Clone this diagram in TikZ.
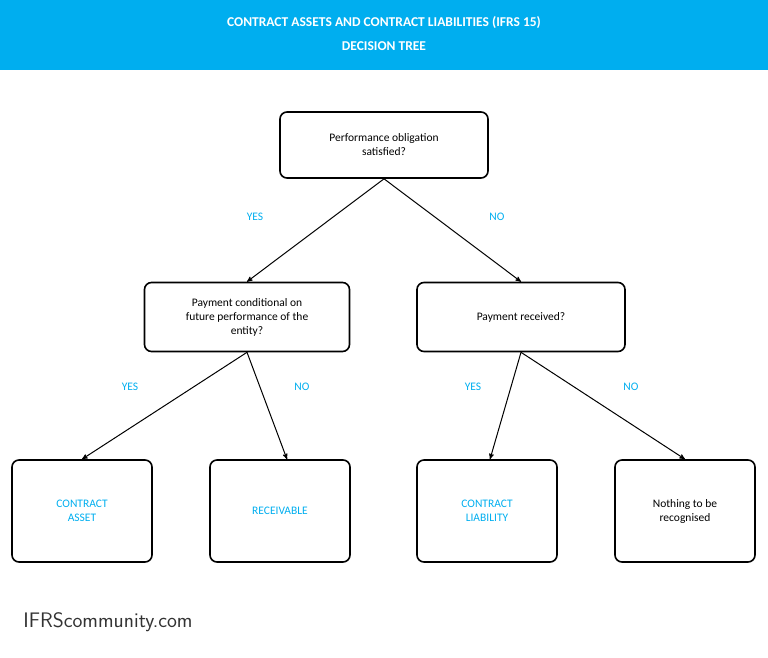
\documentclass[tikz,border=0pt]{standalone}
\usepackage{fontspec}
\setmainfont{Carlito}
\usetikzlibrary{arrows}
\definecolor{ifrsblue}{RGB}{0,174,239}

\begin{document}
\begin{tikzpicture}[x=1pt,y=-1pt,->,>=stealth',line width=1pt]
    \tikzstyle{box}=[draw=black,line width=1.6pt,rounded corners=7pt,align=center,font=\fontsize{11.5}{14}\selectfont]
    \tikzstyle{answer}=[text=ifrsblue,font=\fontsize{11.5}{14}\selectfont]

    \useasboundingbox (0,0) rectangle (768,657);
    \fill[ifrsblue] (0,0) rectangle (768,70);
    \node[text=white,align=center,font=\bfseries\fontsize{13.5}{24}\selectfont] (title) at (384,34)
        {CONTRACT ASSETS AND CONTRACT LIABILITIES (IFRS 15)\\DECISION TREE};

    % Draw the decision nodes
    \node[box,minimum width=208pt,minimum height=66pt] (Q-1) at (384,145) {Performance obligation\\satisfied?};
    \node[box,minimum width=205pt,minimum height=69pt] (Q-2) at (247,317) {Payment conditional on\\future performance of the\\entity?};
    \node[box,minimum width=208pt,minimum height=69pt] (Q-3) at (521,317) {Payment received?};

    % Draw the outcomes
    \foreach \name / \x / \txt / \col in {1/82/{CONTRACT\\ASSET}/ifrsblue, 2/280/RECEIVABLE/ifrsblue,
        3/487/{CONTRACT\\LIABILITY}/ifrsblue, 4/685/{Nothing to be\\recognised}/black}
        \node[box,text=\col,minimum width=140pt,minimum height=102pt] (R-\name) at (\x,511) {\txt};

    \draw (Q-1.south) -- (Q-2.north);
    \draw (Q-1.south) -- (Q-3.north);
    \draw (Q-2.south) -- (R-1.north);
    \draw (Q-2.south) -- ([xshift=7pt]R-2.north);
    \draw (Q-3.south) -- ([xshift=3pt]R-3.north);
    \draw (Q-3.south) -- (R-4.north);

    \foreach \name / \x / \y / \txt in {1/255/217/YES, 2/497/217/NO, 3/130/387/YES,
        4/302/387/NO, 5/473/387/YES, 6/631/387/NO}
        \node[answer] (A-\name) at (\x,\y) {\txt};

    \node[font=\sffamily\fontsize{21}{24}\selectfont,text=black!80] (logo) at (108,622) {IFRScommunity.com};
\end{tikzpicture}
\end{document}
